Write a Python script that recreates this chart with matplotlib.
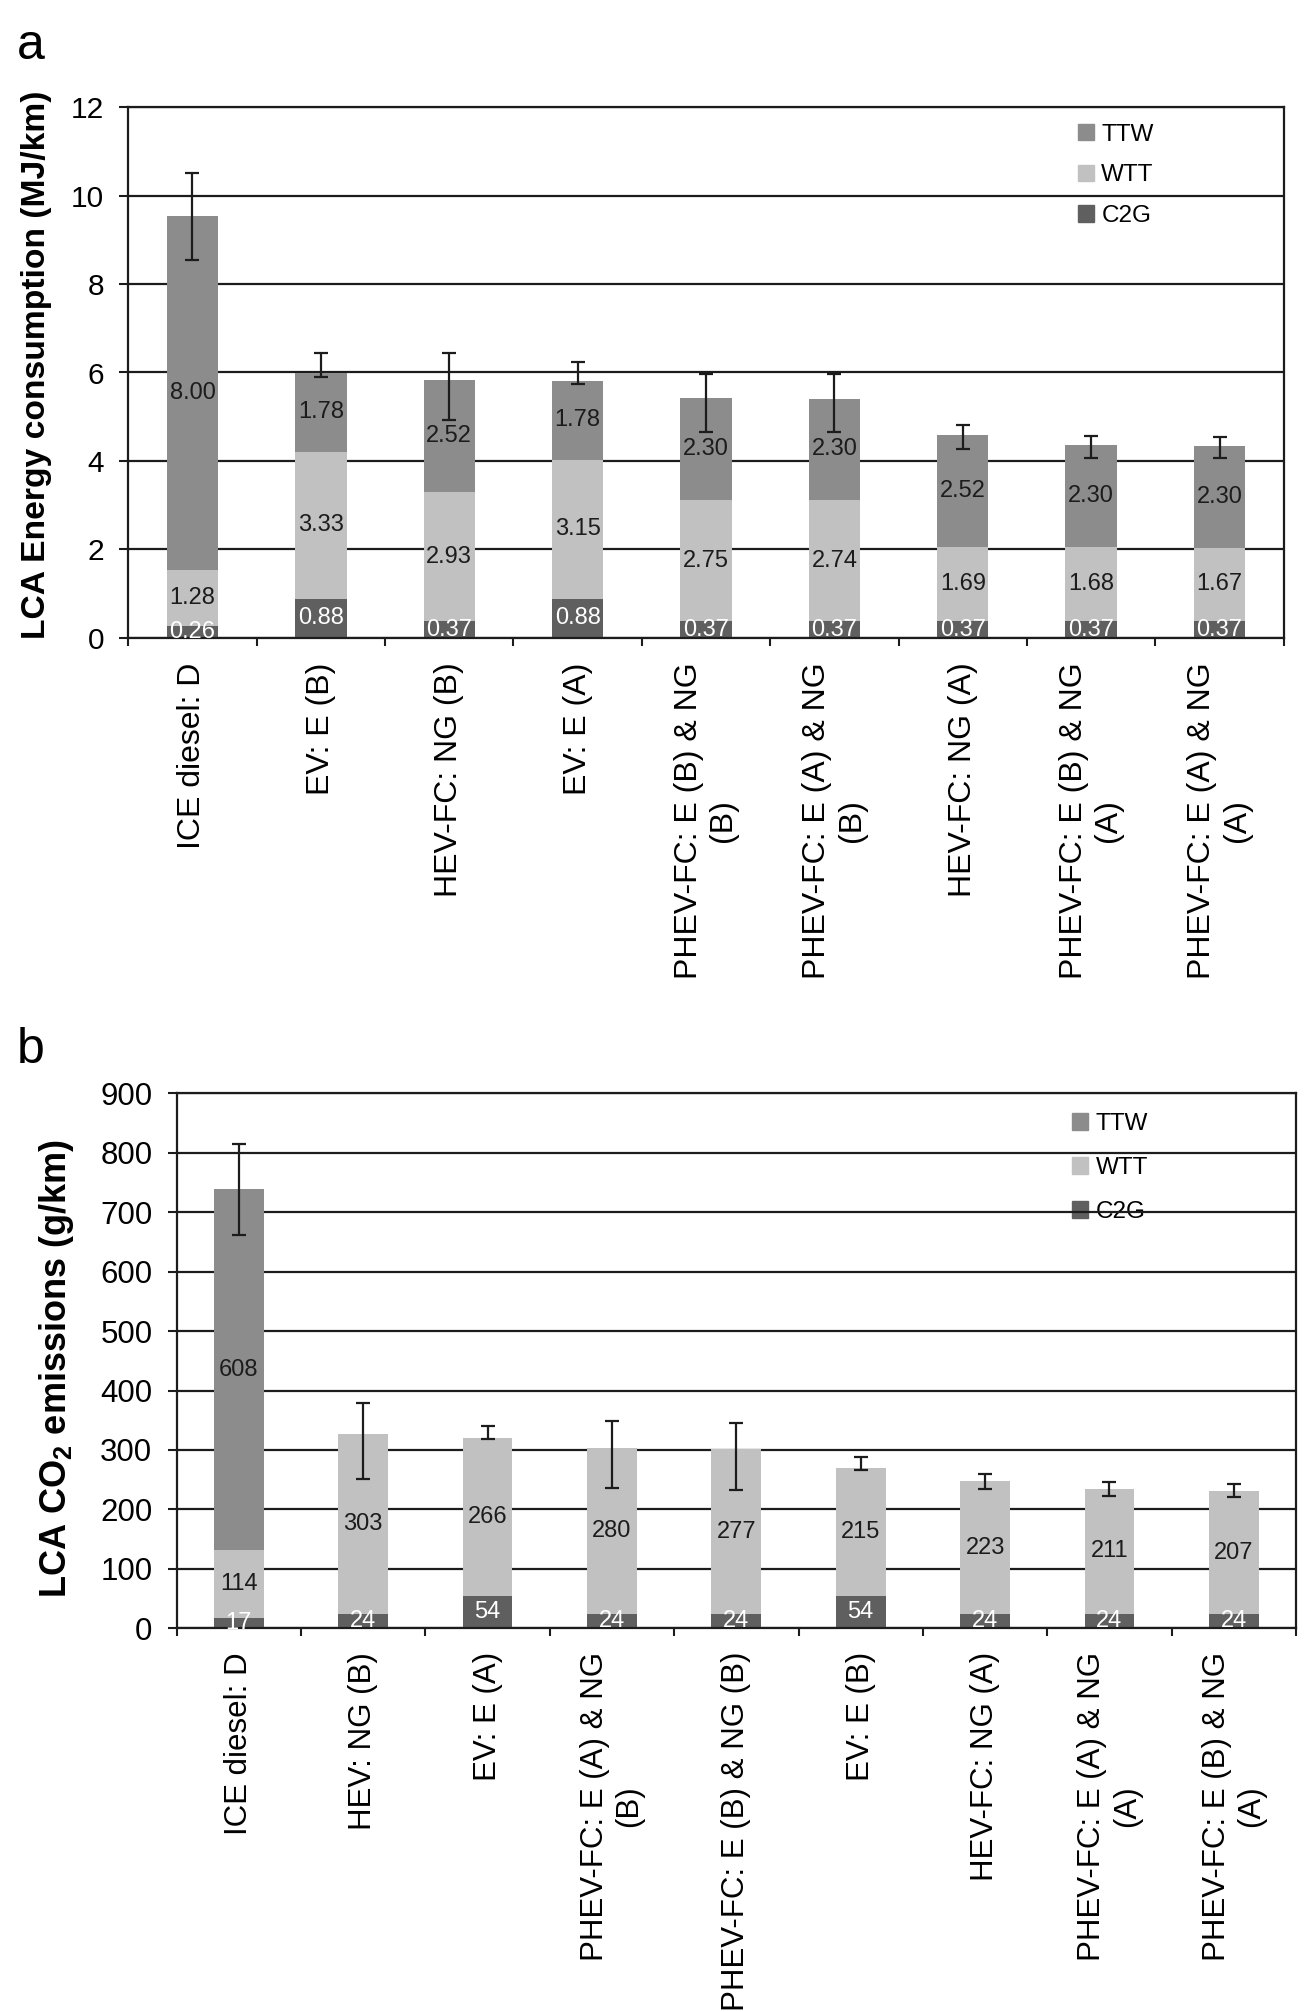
import numpy as np
from matplotlib import pyplot as plt
from matplotlib.patches import Patch

plt.rcParams['font.family'] = ['Liberation Sans', 'DejaVu Sans']
plt.rcParams['mathtext.fontset'] = 'custom'
plt.rcParams['mathtext.rm'] = 'Liberation Sans'
plt.rcParams['mathtext.bf'] = 'Liberation Sans:bold'

# ---- panel a: energy consumption (MJ/km)
cats_a = ['ICE diesel: D', 'EV: E (B)', 'HEV-FC: NG (B)', 'EV: E (A)',
          'PHEV-FC: E (B) & NG\n(B)', 'PHEV-FC: E (A) & NG\n(B)',
          'HEV-FC: NG (A)', 'PHEV-FC: E (B) & NG\n(A)', 'PHEV-FC: E (A) & NG\n(A)']
c2g_a = [0.26, 0.88, 0.37, 0.88, 0.37, 0.37, 0.37, 0.37, 0.37]
wtt_a = [1.28, 3.33, 2.93, 3.15, 2.75, 2.74, 1.69, 1.68, 1.67]
ttw_a = [8.00, 1.78, 2.52, 1.78, 2.30, 2.30, 2.52, 2.30, 2.30]
err_lo_a = [8.55, 5.89, 4.93, 5.73, 4.65, 4.65, 4.26, 4.06, 4.06]
err_hi_a = [10.51, 6.43, 6.45, 6.24, 5.97, 5.96, 4.82, 4.56, 4.53]

# ---- panel b: CO2 emissions (g/km)
cats_b = ['ICE diesel: D', 'HEV: NG (B)', 'EV: E (A)', 'PHEV-FC: E (A) & NG\n(B)',
          'PHEV-FC: E (B) & NG (B)', 'EV: E (B)', 'HEV-FC: NG (A)',
          'PHEV-FC: E (A) & NG\n(A)', 'PHEV-FC: E (B) & NG\n(A)']
c2g_b = [17, 24, 54, 24, 24, 54, 24, 24, 24]
wtt_b = [114, 303, 266, 280, 277, 215, 223, 211, 207]
ttw_b = [608, 0, 0, 0, 0, 0, 0, 0, 0]
err_lo_b = [662, 251, 318, 236, 233, 267, 235, 223, 221]
err_hi_b = [814, 379, 340, 349, 346, 289, 259, 246, 243]

col_ttw = '#8c8c8c'
col_wtt = '#c1c1c1'
col_c2g = '#5f5f5f'
dark = '#1c1c1c'

W, H = 1312, 2012
fig = plt.figure(figsize=(W / 100, H / 100), dpi=100)


def px_axes(l, t, r, b):
    return fig.add_axes([l / W, 1 - b / H, (r - l) / W, (b - t) / H])


def draw_panel(ax, cats, c2g, wtt, ttw, lo, hi, ymax, ystep, fmt, ylabel, ylabel_fs,
               tick_fs, cat_fs, cat_pad, leg_anchor, leg_spacing):
    x = np.arange(len(cats))
    c2g = np.array(c2g, float)
    wtt = np.array(wtt, float)
    ttw = np.array(ttw, float)
    width = 0.4
    ax.bar(x, c2g, width, color=col_c2g, zorder=1)
    ax.bar(x, wtt, width, bottom=c2g, color=col_wtt, zorder=1)
    ax.bar(x, ttw, width, bottom=c2g + wtt, color=col_ttw, zorder=1)

    total = c2g + wtt + ttw
    yerr = [total - np.array(lo), np.array(hi) - total]
    ax.errorbar(x, total, yerr=yerr, fmt='none', ecolor=dark, elinewidth=1.6,
                capsize=4.8, capthick=1.6, zorder=3)

    # segment labels
    for i in range(len(x)):
        ax.text(x[i], c2g[i] / 2, fmt % c2g[i], ha='center', va='center',
                color='white', fontsize=17, zorder=4)
        ax.text(x[i], c2g[i] + wtt[i] / 2, fmt % wtt[i], ha='center', va='center',
                color=dark, fontsize=17, zorder=4)
        if ttw[i] > 0:
            ax.text(x[i], c2g[i] + wtt[i] + ttw[i] / 2, fmt % ttw[i], ha='center',
                    va='center', color=dark, fontsize=17, zorder=4)

    ax.set_xlim(-0.5, len(cats) - 0.5)
    ax.set_ylim(0, ymax)
    ax.set_yticks(np.arange(0, ymax + ystep / 2, ystep))
    ax.tick_params(axis='y', labelsize=tick_fs, length=6.5, width=1.5,
                   color=dark, pad=11)
    ax.set_xticks(x)
    ax.set_xticklabels(cats, rotation=90, fontsize=cat_fs, multialignment='center')
    ax.tick_params(axis='x', which='major', length=0, pad=cat_pad)
    ax.set_xticks(np.arange(-0.5, len(cats), 1), minor=True)
    ax.tick_params(axis='x', which='minor', length=6, width=1.5, color=dark)

    ax.yaxis.grid(True, color=dark, linewidth=1.6)
    ax.set_axisbelow(True)
    for s in ax.spines.values():
        s.set_color(dark)
        s.set_linewidth(1.6)

    ax.set_ylabel(ylabel, fontsize=ylabel_fs, fontweight='bold')

    handles = [Patch(color=col_ttw), Patch(color=col_wtt), Patch(color=col_c2g)]
    leg = ax.legend(handles, ['TTW', 'WTT', 'C2G'], loc='upper left',
                    bbox_to_anchor=leg_anchor, frameon=False, fontsize=17.5,
                    borderpad=0, borderaxespad=0, handlelength=0.66,
                    handleheight=0.66, handletextpad=0.3,
                    labelspacing=leg_spacing)
    leg.set_zorder(0.3)


ax_a = px_axes(128.3, 107.3, 1283.7, 637.7)
draw_panel(ax_a, cats_a, c2g_a, wtt_a, ttw_a, err_lo_a, err_hi_a, 12, 2, '%.2f',
           'LCA Energy consumption (MJ/km)', 24.2, 21.5, 23, 18,
           (0.822, 0.969), 0.77)
ax_a.yaxis.set_label_coords(-0.066, 0.515)

ax_b = px_axes(176.7, 1093.3, 1296, 1628.3)
draw_panel(ax_b, cats_b, c2g_b, wtt_b, ttw_b, err_lo_b, err_hi_b, 900, 100, '%d',
           r'LCA CO$_\mathbf{2}$ emissions (g/km)', 26, 22.5, 22.5, 17,
           (0.80, 0.963), 0.9)
ax_b.yaxis.set_label_coords(-0.09, 0.485)

fig.text(17 / W, 1 - 59 / H, 'a', fontsize=36, ha='left', va='baseline')
fig.text(17 / W, 1 - 1063 / H, 'b', fontsize=36, ha='left', va='baseline')

plt.savefig('out.png', dpi=100)
